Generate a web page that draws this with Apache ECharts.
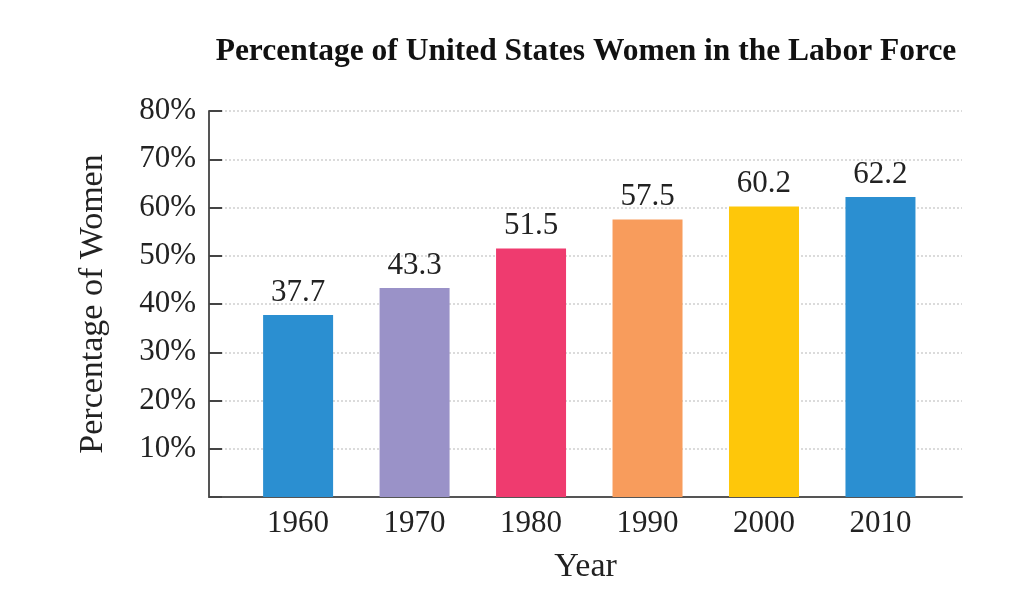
<!DOCTYPE html>
<html>
<head>
<meta charset="utf-8">
<script src="https://cdn.jsdelivr.net/npm/echarts@6/dist/echarts.min.js"></script>
<style>html,body{margin:0;padding:0;background:#fff}#c{width:1024px;height:590px}</style>
</head>
<body>
<div id="c"></div>
<script>
const years = [1960, 1970, 1980, 1990, 2000, 2010];
const percents = [37.7, 43.3, 51.5, 57.5, 60.2, 62.2];
const barColors = ['#2B8FD1', '#9A92C8', '#EF3B6F', '#F89C5C', '#FEC70A', '#2B8FD1'];
const yTicks = [0, 10, 20, 30, 40, 50, 60, 70, 80];

const font = 'Liberation Serif, Times New Roman, serif';
const chart = echarts.init(document.getElementById('c'));
chart.setOption({
  animation: false,
  backgroundColor: '#fff',
  title: {
    text: 'Percentage of United States Women in the Labor Force',
    left: 581, top: 31, textAlign: 'center',
    textStyle: { fontFamily: font, fontWeight: 'bold', fontSize: 31.5, color: '#111' }
  },
  grid: { left: 209, right: 62, top: 111, bottom: 93 },
  xAxis: {
    type: 'value', min: 1952.35, max: 2017,
    name: 'Year', nameLocation: 'middle', nameGap: 53,
    nameTextStyle: { fontFamily: font, fontSize: 34, color: '#222' },
    axisLine: { show: true, lineStyle: { color: '#555', width: 2 } },
    axisTick: { show: false },
    splitLine: { show: false },
    axisLabel: { customValues: years, fontFamily: font, fontSize: 31, color: '#222', margin: 11,
      formatter: v => String(v) }
  },
  yAxis: {
    type: 'value', min: yTicks[0], max: yTicks[yTicks.length - 1], interval: 10,
    name: 'Percentage of Women', nameLocation: 'middle', nameGap: 99,
    nameTextStyle: { fontFamily: font, fontSize: 34, color: '#222' },
    axisLine: { show: true, lineStyle: { color: '#555', width: 2 } },
    axisTick: { show: true, inside: true, length: 13, lineStyle: { color: '#444', width: 2 } },
    axisLabel: { fontFamily: font, fontSize: 31, color: '#222', margin: 13,
      formatter: v => v === 0 ? '' : v + '%' },
    splitLine: { show: true, lineStyle: { type: [2, 2], color: '#cfcfcf', width: 1.5 } }
  },
  series: [{
    type: 'bar',
    barWidth: 70,
    data: years.map((y, i) => ({ value: [y, percents[i]], itemStyle: { color: barColors[i] } })),
    label: { show: true, position: 'top', distance: 7, fontFamily: font, fontSize: 31, color: '#222',
      formatter: p => p.value[1].toFixed(1) }
  }]
});
</script>
</body>
</html>
